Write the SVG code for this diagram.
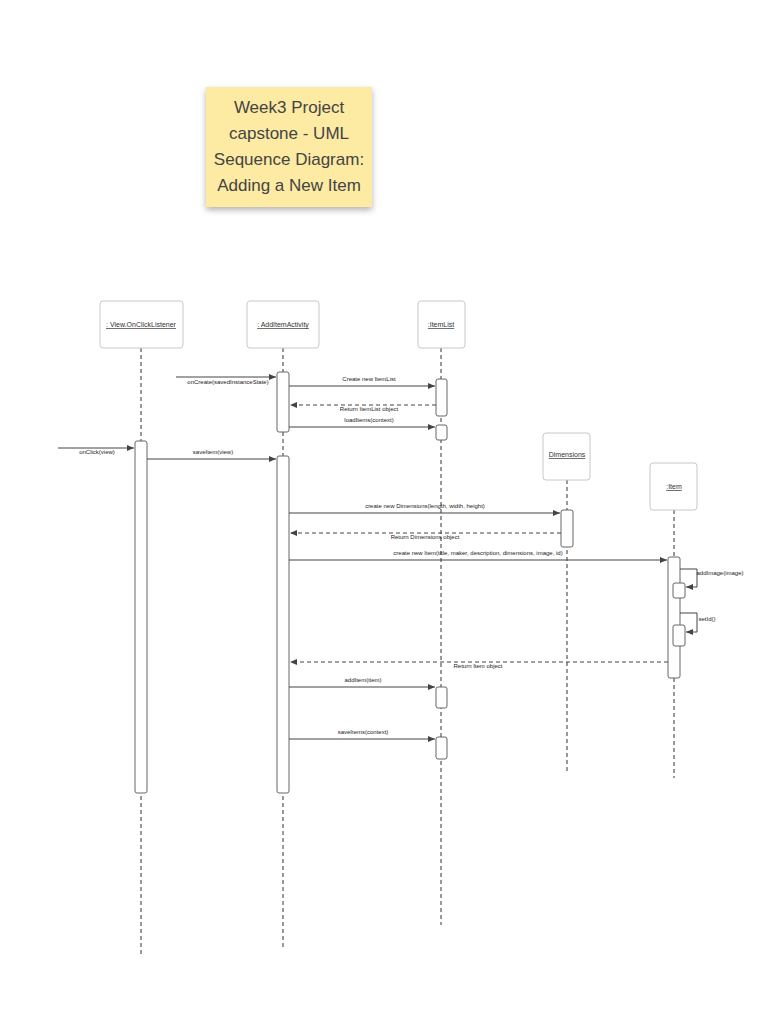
<svg xmlns="http://www.w3.org/2000/svg" width="768" height="1024" viewBox="0 0 768 1024">
<style>
.box{fill:#fff;stroke:#c8c8c8;stroke-width:1}
.ll{stroke:#333;stroke-width:1;stroke-dasharray:4,3}
.act{fill:#fff;stroke:#666;stroke-width:1}
.m{stroke:#444;stroke-width:1;fill:none}
.r{stroke:#444;stroke-width:1;stroke-dasharray:4,3;fill:none}
.t{font-family:"Liberation Sans",Arial,sans-serif;font-size:6px;fill:#222;text-anchor:middle}
.n{font-family:"Liberation Sans",Arial,sans-serif;font-size:7px;fill:#333;text-anchor:middle;text-decoration:underline}
</style>
<defs>
<marker id="a" markerWidth="8" markerHeight="8" refX="7" refY="3" orient="auto"><path d="M0,0 L7,3 L0,6 z" fill="#444"/></marker>
<filter id="sh" x="-10%" y="-10%" width="130%" height="130%"><feDropShadow dx="0" dy="3" stdDeviation="3" flood-opacity="0.3"/></filter>
</defs>
<rect width="768" height="1024" fill="#fff"/>
<g id="title">
<rect x="206" y="87" width="166" height="120" fill="#fdeaa3" filter="url(#sh)"/>
<text font-family="Liberation Sans,Arial,sans-serif" font-size="17" fill="#444" text-anchor="middle"><tspan x="289" y="113">Week3 Project</tspan><tspan x="289" y="139">capstone - UML</tspan><tspan x="289" y="165">Sequence Diagram:</tspan><tspan x="289" y="191">Adding a New Item</tspan></text>
</g>
<g id="lifelines">
<line class="ll" x1="141" y1="348" x2="141" y2="955"/>
<line class="ll" x1="283" y1="348" x2="283" y2="948"/>
<line class="ll" x1="441" y1="348" x2="441" y2="925"/>
<line class="ll" x1="567" y1="480" x2="567" y2="772"/>
<line class="ll" x1="674" y1="510" x2="674" y2="778"/>
</g>
<g id="n-onclick"><rect class="box" x="100" y="301" width="83" height="47" rx="3"/><text class="n" x="141" y="327">: View.OnClickListener</text></g>
<g id="n-additem"><rect class="box" x="247" y="301" width="72" height="47" rx="3"/><text class="n" x="283" y="327">: AddItemActivity</text></g>
<g id="n-itemlist"><rect class="box" x="418" y="301" width="47" height="47" rx="3"/><text class="n" x="441" y="327">:ItemList</text></g>
<g id="n-dim"><rect class="box" x="543" y="433" width="47" height="47" rx="3"/><text class="n" x="567" y="457">Dimensions</text></g>
<g id="n-item"><rect class="box" x="650" y="463" width="47" height="47" rx="3"/><text class="n" x="674" y="489">:Item</text></g>
<g id="activations">
<rect class="act" x="277" y="372" width="12" height="60" rx="2"/>
<rect class="act" x="277" y="456" width="12" height="337" rx="2"/>
<rect class="act" x="436" y="379" width="11" height="37" rx="2"/>
<rect class="act" x="436" y="425" width="11" height="15" rx="2"/>
<rect class="act" x="436" y="687" width="11" height="21" rx="2"/>
<rect class="act" x="436" y="737" width="11" height="22" rx="2"/>
<rect class="act" x="135" y="441" width="12" height="352" rx="2"/>
<rect class="act" x="561" y="510" width="12" height="37" rx="2"/>
<rect class="act" x="668" y="557" width="12" height="121" rx="2"/>
<rect class="act" x="673" y="583" width="12" height="15" rx="2"/>
<rect class="act" x="673" y="625" width="12" height="21" rx="2"/>
</g>
<g id="connectors">
<line class="m" x1="176" y1="377" x2="276" y2="377" marker-end="url(#a)"/>
<line class="m" x1="289" y1="386" x2="435" y2="386" marker-end="url(#a)"/>
<line class="r" x1="436" y1="405" x2="290" y2="405" marker-end="url(#a)"/>
<line class="m" x1="289" y1="427" x2="435" y2="427" marker-end="url(#a)"/>
<line class="m" x1="58" y1="448" x2="134" y2="448" marker-end="url(#a)"/>
<line class="m" x1="147" y1="459" x2="276" y2="459" marker-end="url(#a)"/>
<line class="m" x1="289" y1="513" x2="560" y2="513" marker-end="url(#a)"/>
<line class="r" x1="561" y1="533" x2="290" y2="533" marker-end="url(#a)"/>
<line class="m" x1="289" y1="560" x2="667" y2="560" marker-end="url(#a)"/>
<path class="m" d="M680,569 H697 V587 H686" marker-end="url(#a)"/>
<path class="m" d="M680,613 H697 V632 H686" marker-end="url(#a)"/>
<line class="r" x1="668" y1="662" x2="290" y2="662" marker-end="url(#a)"/>
<line class="m" x1="289" y1="687" x2="435" y2="687" marker-end="url(#a)"/>
<line class="m" x1="289" y1="739" x2="435" y2="739" marker-end="url(#a)"/>
</g>
<g id="labels">
<text class="t" x="228" y="384">onCreate(savedInstanceState)</text>
<text class="t" x="369" y="381">Create new ItemList</text>
<text class="t" x="369" y="411">Return ItemList object</text>
<text class="t" x="369" y="422">loadItems(context)</text>
<text class="t" x="97" y="454">onClick(view)</text>
<text class="t" x="213" y="454">saveItem(view)</text>
<text class="t" x="425" y="508">create new Dimensions(length, width, height)</text>
<text class="t" x="425" y="539">Return Dimensions object</text>
<text class="t" x="478" y="555">create new Item(title, maker, description, dimensions, image, id)</text>
<text class="t" x="720" y="575">addImage(image)</text>
<text class="t" x="707" y="621">setId()</text>
<text class="t" x="478" y="668">Return Item object</text>
<text class="t" x="363" y="682">addItem(item)</text>
<text class="t" x="363" y="734">saveItems(context)</text>
</g>
</svg>
